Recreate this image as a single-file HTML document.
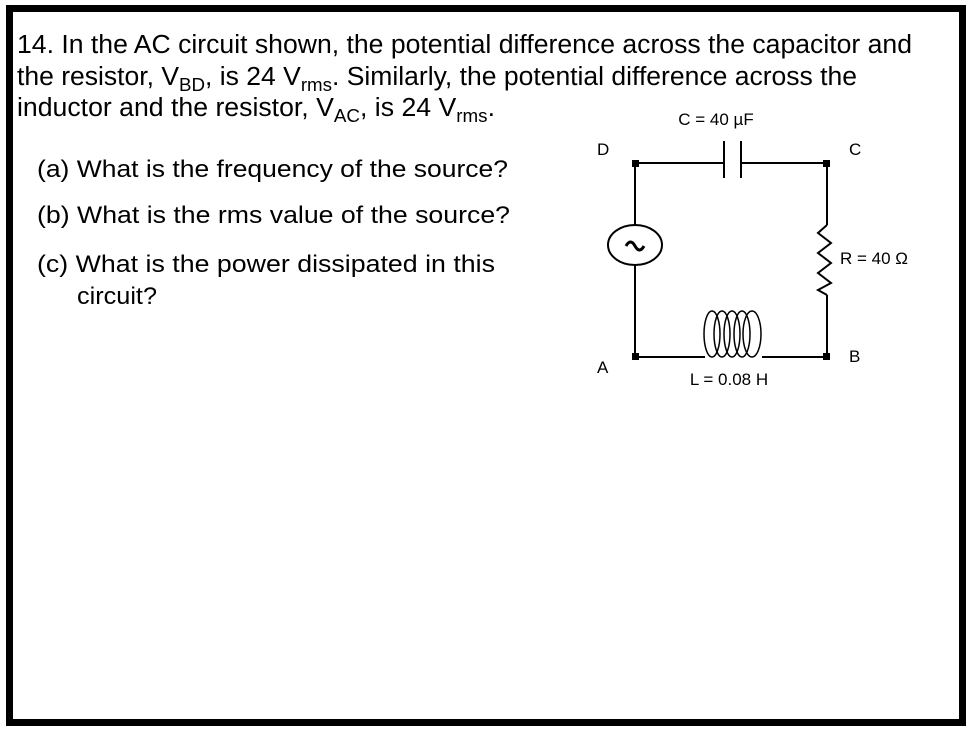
<!DOCTYPE html>
<html><head><meta charset="utf-8"><style>
html,body{margin:0;padding:0;background:#fff}
svg{display:block}
text{font-family:"Liberation Sans",Arial,sans-serif;fill:#000}
</style></head><body>
<svg width="969" height="730" viewBox="0 0 969 730">
<rect x="9.5" y="8.5" width="953" height="714" fill="none" stroke="#000" stroke-width="7"/>
<g font-size="25.5">
<text x="17" y="53" textLength="895" lengthAdjust="spacingAndGlyphs">14. In the AC circuit shown, the potential difference across the capacitor and</text>
<text x="17" y="85" textLength="840" lengthAdjust="spacingAndGlyphs">the resistor, V<tspan font-size="18" dy="6">BD</tspan><tspan dy="-6">, is 24 V</tspan><tspan font-size="18" dy="6">rms</tspan><tspan dy="-6">. Similarly, the potential difference across the</tspan></text>
<text x="17" y="116" textLength="478" lengthAdjust="spacingAndGlyphs">inductor and the resistor,  V<tspan font-size="18" dy="6">AC</tspan><tspan dy="-6">, is 24 V</tspan><tspan font-size="18" dy="6">rms</tspan><tspan dy="-6">.</tspan></text>
</g>
<g font-size="24.5">
<text x="37" y="177" textLength="471" lengthAdjust="spacingAndGlyphs">(a) What is the frequency of the source?</text>
<text x="37" y="223" textLength="473" lengthAdjust="spacingAndGlyphs">(b) What is the rms value of the source?</text>
<text x="37" y="272" textLength="458" lengthAdjust="spacingAndGlyphs">(c) What is the power dissipated in this</text>
<text x="77" y="304" textLength="80" lengthAdjust="spacingAndGlyphs">circuit?</text>
</g>
<g stroke="#000" stroke-width="2" fill="none">
<path d="M635 163 H724 M741 163 H827 V225 M827 295 V357 H762 M705 357 H635 V265 M635 225 V163"/>
<path d="M724 141 V178 M741 141 V178"/>
<ellipse cx="635" cy="245" rx="27" ry="20"/>
<path d="M626 246 q4.5 -8 9 0 q4.5 8 9 0" stroke-width="3"/>
<path d="M827 225 L818 233 L831 243 L818 253 L831 263 L818 273 L831 283 L818 290 L827 295"/>
<g stroke-width="1.5">
<ellipse cx="712" cy="334" rx="8" ry="23"/>
<ellipse cx="722" cy="334" rx="8" ry="23"/>
<ellipse cx="732" cy="334" rx="8" ry="23"/>
<ellipse cx="742" cy="334" rx="8" ry="23"/>
<ellipse cx="752" cy="334" rx="9" ry="23"/>
</g>
</g>
<g fill="#000">
<rect x="632" y="160" width="7" height="7"/>
<rect x="823" y="160" width="7" height="7"/>
<rect x="632" y="353" width="7" height="7"/>
<rect x="823" y="353" width="7" height="7"/>
</g>
<g font-size="17">
<text x="716" y="125" text-anchor="middle">C = 40 µF</text>
<text x="597" y="155">D</text>
<text x="849" y="155">C</text>
<text x="597" y="373">A</text>
<text x="849" y="362">B</text>
<text x="729" y="385" text-anchor="middle">L = 0.08 H</text>
<text x="840" y="264">R = 40 Ω</text>
</g>
</svg>
</body></html>
